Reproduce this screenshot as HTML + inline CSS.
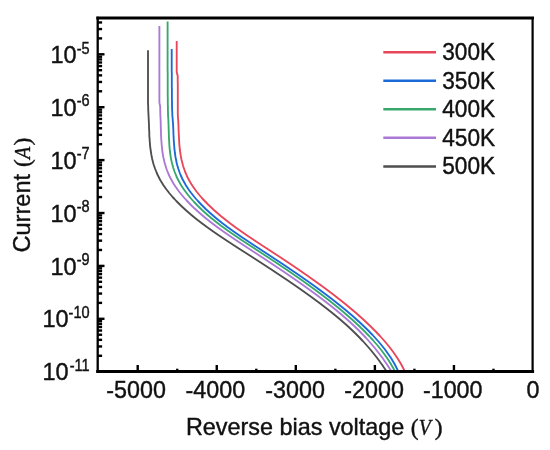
<!DOCTYPE html>
<html><head><meta charset="utf-8"><title>I-V curves</title>
<style>
html,body{margin:0;padding:0;background:#fff;}
body{width:550px;height:450px;overflow:hidden;}
svg{display:block;}
text{stroke:#111;stroke-width:0.4px;}
</style></head><body>
<svg width="550" height="450" viewBox="0 0 550 450">
<rect width="550" height="450" fill="#fff"/>
<polyline points="148.0,50.3 148.0,51.0 148.0,53.0 148.0,55.0 148.0,57.0 148.0,59.0 148.0,61.0 148.0,63.0 148.0,65.0 148.0,67.0 148.0,69.0 148.0,71.0 148.0,73.0 148.0,75.0 148.0,77.0 148.0,79.0 148.0,81.0 148.0,83.0 148.0,85.0 148.0,87.0 148.0,89.0 148.0,91.0 148.0,93.0 148.0,95.0 148.0,97.0 148.0,99.0 148.0,101.0 148.0,103.0 148.1,105.0 148.2,107.0 148.2,109.0 148.3,111.0 148.4,113.0 148.5,115.0 148.6,117.0 148.7,119.0 148.8,121.0 148.9,123.0 149.0,125.0 149.0,127.0 149.1,129.0 149.2,131.0 149.3,133.0 149.3,135.0 149.4,137.0 149.6,139.0 149.7,141.0 149.9,143.0 150.0,145.0 150.2,147.0 150.5,149.0 150.8,151.0 151.1,153.0 151.4,155.0 151.8,157.0 152.2,159.0 152.7,161.0 153.2,163.0 153.8,165.0 154.5,167.0 155.2,169.0 156.0,171.0 156.8,173.0 157.7,175.0 158.7,177.0 159.7,179.0 160.8,181.0 162.1,183.0 163.3,185.0 164.7,187.0 166.1,189.0 167.7,191.0 169.2,193.0 170.9,195.0 172.6,197.0 174.5,199.0 176.3,201.0 178.3,203.0 180.3,205.0 182.4,207.0 184.6,209.0 186.8,211.0 189.1,213.0 191.4,215.0 193.8,217.0 196.3,219.0 198.9,221.0 201.5,223.0 204.2,225.0 206.9,227.0 209.7,229.0 212.5,231.0 215.4,233.0 218.3,235.0 221.3,237.0 224.3,239.0 227.3,241.0 230.4,243.0 233.4,245.0 236.5,247.0 239.6,249.0 242.7,251.0 245.9,253.0 249.0,255.0 252.1,257.0 255.2,259.0 258.3,261.0 261.4,263.0 264.4,265.0 267.5,267.0 270.6,269.0 273.6,271.0 276.6,273.0 279.6,275.0 282.6,277.0 285.6,279.0 288.6,281.0 291.5,283.0 294.4,285.0 297.3,287.0 300.2,289.0 303.0,291.0 305.8,293.0 308.6,295.0 311.4,297.0 314.1,299.0 316.8,301.0 319.5,303.0 322.1,305.0 324.7,307.0 327.3,309.0 329.8,311.0 332.3,313.0 334.8,315.0 337.2,317.0 339.6,319.0 341.9,321.0 344.2,323.0 346.5,325.0 348.7,327.0 350.8,329.0 352.9,331.0 355.0,333.0 357.0,335.0 359.0,337.0 360.9,339.0 362.8,341.0 364.6,343.0 366.4,345.0 368.2,347.0 369.9,349.0 371.6,351.0 373.2,353.0 374.8,355.0 376.4,357.0 377.9,359.0 379.4,361.0 380.8,363.0 382.3,365.0 383.6,367.0 385.0,369.0 386.3,371.0 386.7,371.5" fill="none" stroke="#4e4e4e" stroke-width="1.85" stroke-linejoin="round"/>
<polyline points="159.4,25.9 159.4,26.0 159.4,28.0 159.4,30.0 159.4,32.0 159.4,34.0 159.4,36.0 159.4,38.0 159.4,40.0 159.4,42.0 159.4,44.0 159.4,46.0 159.4,48.0 159.4,50.0 159.4,52.0 159.4,54.0 159.4,56.0 159.4,58.0 159.4,60.0 159.4,62.0 159.4,64.0 159.4,66.0 159.4,68.0 159.4,70.0 159.4,72.0 159.4,74.0 159.4,76.0 159.4,78.0 159.4,80.0 159.4,82.0 159.4,84.0 159.4,86.0 159.4,88.0 159.4,90.0 159.4,92.0 159.4,94.0 159.4,96.0 159.4,98.0 159.4,100.0 159.4,102.0 159.7,104.0 160.1,106.0 160.2,108.0 160.2,110.0 160.3,112.0 160.3,114.0 160.4,116.0 160.5,118.0 160.6,120.0 160.7,122.0 160.7,124.0 160.8,126.0 160.8,128.0 160.9,130.0 161.0,132.0 161.0,134.0 161.1,136.0 161.2,138.0 161.3,140.0 161.5,142.0 161.6,144.0 161.8,146.0 162.0,148.0 162.2,150.0 162.5,152.0 162.8,154.0 163.1,156.0 163.5,158.0 164.0,160.0 164.4,162.0 165.0,164.0 165.6,166.0 166.2,168.0 166.9,170.0 167.7,172.0 168.5,174.0 169.4,176.0 170.4,178.0 171.5,180.0 172.6,182.0 173.8,184.0 175.1,186.0 176.5,188.0 177.9,190.0 179.4,192.0 181.0,194.0 182.7,196.0 184.4,198.0 186.2,200.0 188.1,202.0 190.0,204.0 192.0,206.0 194.1,208.0 196.3,210.0 198.5,212.0 200.8,214.0 203.1,216.0 205.5,218.0 208.0,220.0 210.5,222.0 213.1,224.0 215.8,226.0 218.5,228.0 221.3,230.0 224.1,232.0 227.0,234.0 229.9,236.0 232.8,238.0 235.8,240.0 238.8,242.0 241.8,244.0 244.8,246.0 247.9,248.0 250.9,250.0 254.0,252.0 257.1,254.0 260.1,256.0 263.2,258.0 266.2,260.0 269.2,262.0 272.2,264.0 275.2,266.0 278.2,268.0 281.2,270.0 284.2,272.0 287.1,274.0 290.0,276.0 292.9,278.0 295.8,280.0 298.7,282.0 301.5,284.0 304.3,286.0 307.1,288.0 309.9,290.0 312.6,292.0 315.4,294.0 318.0,296.0 320.7,298.0 323.3,300.0 325.9,302.0 328.5,304.0 331.0,306.0 333.5,308.0 336.0,310.0 338.4,312.0 340.8,314.0 343.1,316.0 345.4,318.0 347.7,320.0 349.9,322.0 352.1,324.0 354.2,326.0 356.3,328.0 358.4,330.0 360.4,332.0 362.3,334.0 364.2,336.0 366.1,338.0 367.9,340.0 369.7,342.0 371.4,344.0 373.1,346.0 374.8,348.0 376.4,350.0 377.9,352.0 379.5,354.0 381.0,356.0 382.5,358.0 383.9,360.0 385.3,362.0 386.7,364.0 388.0,366.0 389.3,368.0 390.6,370.0 391.6,371.5" fill="none" stroke="#ab78d6" stroke-width="1.85" stroke-linejoin="round"/>
<polyline points="167.6,21.4 167.6,22.0 167.6,24.0 167.6,26.0 167.6,28.0 167.6,30.0 167.6,32.0 167.6,34.0 167.6,36.0 167.6,38.0 167.6,40.0 167.6,42.0 167.6,44.0 167.6,46.0 167.6,48.0 167.6,50.0 167.6,52.0 167.6,54.0 167.6,56.0 167.6,58.0 167.6,60.0 167.6,62.0 167.6,64.0 167.6,66.0 167.6,68.0 167.6,70.0 167.7,72.0 167.7,74.0 167.7,76.0 167.7,78.0 167.7,80.0 167.7,82.0 167.7,84.0 167.7,86.0 167.7,88.0 167.7,90.0 167.7,92.0 167.7,94.0 167.7,96.0 167.8,98.0 167.8,100.0 167.8,102.0 167.8,104.0 167.9,106.0 167.9,108.0 167.9,110.0 168.0,112.0 168.0,114.0 168.1,116.0 168.2,118.0 168.4,120.0 168.4,122.0 168.5,124.0 168.6,126.0 168.6,128.0 168.7,130.0 168.8,132.0 168.8,134.0 168.9,136.0 169.0,138.0 169.1,140.0 169.2,142.0 169.3,144.0 169.4,146.0 169.6,148.0 169.8,150.0 170.0,152.0 170.3,154.0 170.6,156.0 170.9,158.0 171.3,160.0 171.7,162.0 172.2,164.0 172.8,166.0 173.3,168.0 174.0,170.0 174.7,172.0 175.5,174.0 176.3,176.0 177.2,178.0 178.2,180.0 179.3,182.0 180.4,184.0 181.6,186.0 182.9,188.0 184.3,190.0 185.8,192.0 187.3,194.0 188.9,196.0 190.5,198.0 192.3,200.0 194.1,202.0 196.0,204.0 197.9,206.0 200.0,208.0 202.1,210.0 204.3,212.0 206.5,214.0 208.8,216.0 211.2,218.0 213.7,220.0 216.2,222.0 218.8,224.0 221.4,226.0 224.2,228.0 226.9,230.0 229.8,232.0 232.7,234.0 235.6,236.0 238.6,238.0 241.5,240.0 244.6,242.0 247.6,244.0 250.7,246.0 253.8,248.0 256.8,250.0 259.9,252.0 263.0,254.0 266.0,256.0 269.1,258.0 272.1,260.0 275.2,262.0 278.2,264.0 281.1,266.0 284.1,268.0 287.1,270.0 290.0,272.0 292.9,274.0 295.8,276.0 298.7,278.0 301.5,280.0 304.3,282.0 307.1,284.0 309.9,286.0 312.6,288.0 315.4,290.0 318.1,292.0 320.7,294.0 323.4,296.0 326.0,298.0 328.6,300.0 331.1,302.0 333.6,304.0 336.1,306.0 338.6,308.0 341.0,310.0 343.4,312.0 345.7,314.0 348.0,316.0 350.3,318.0 352.6,320.0 354.8,322.0 356.9,324.0 359.1,326.0 361.1,328.0 363.2,330.0 365.2,332.0 367.1,334.0 369.1,336.0 370.9,338.0 372.8,340.0 374.5,342.0 376.3,344.0 378.0,346.0 379.6,348.0 381.2,350.0 382.7,352.0 384.2,354.0 385.6,356.0 387.0,358.0 388.4,360.0 389.6,362.0 390.9,364.0 392.0,366.0 393.2,368.0 394.2,370.0 395.0,371.5" fill="none" stroke="#36a86c" stroke-width="1.85" stroke-linejoin="round"/>
<polyline points="171.7,48.9 171.7,49.0 171.7,51.0 171.7,53.0 171.7,55.0 171.7,57.0 171.7,59.0 171.7,61.0 171.7,63.0 171.7,65.0 171.7,67.0 171.7,69.0 171.7,71.0 171.8,73.0 171.8,75.0 171.8,77.0 171.8,79.0 171.8,81.0 171.8,83.0 171.8,85.0 171.8,87.0 171.9,89.0 171.9,91.0 171.9,93.0 171.9,95.0 171.9,97.0 171.9,99.0 172.0,101.0 172.0,103.0 172.0,105.0 172.1,107.0 172.1,109.0 172.2,111.0 172.3,113.0 172.3,115.0 172.5,117.0 172.7,119.0 172.8,121.0 173.0,123.0 173.1,125.0 173.2,127.0 173.3,129.0 173.4,131.0 173.4,133.0 173.5,135.0 173.6,137.0 173.7,139.0 173.8,141.0 174.0,143.0 174.1,145.0 174.3,147.0 174.4,149.0 174.7,151.0 174.9,153.0 175.2,155.0 175.5,157.0 175.9,159.0 176.3,161.0 176.7,163.0 177.2,165.0 177.8,167.0 178.4,169.0 179.1,171.0 179.8,173.0 180.6,175.0 181.5,177.0 182.4,179.0 183.5,181.0 184.6,183.0 185.7,185.0 187.0,187.0 188.3,189.0 189.7,191.0 191.2,193.0 192.8,195.0 194.4,197.0 196.1,199.0 197.9,201.0 199.8,203.0 201.7,205.0 203.7,207.0 205.7,209.0 207.9,211.0 210.1,213.0 212.4,215.0 214.7,217.0 217.1,219.0 219.6,221.0 222.1,223.0 224.8,225.0 227.4,227.0 230.2,229.0 233.0,231.0 235.8,233.0 238.7,235.0 241.6,237.0 244.6,239.0 247.6,241.0 250.6,243.0 253.6,245.0 256.7,247.0 259.8,249.0 262.8,251.0 265.9,253.0 268.9,255.0 272.0,257.0 275.0,259.0 278.0,261.0 281.1,263.0 284.1,265.0 287.0,267.0 290.0,269.0 292.9,271.0 295.9,273.0 298.8,275.0 301.7,277.0 304.5,279.0 307.4,281.0 310.2,283.0 313.0,285.0 315.8,287.0 318.5,289.0 321.2,291.0 323.9,293.0 326.6,295.0 329.2,297.0 331.8,299.0 334.4,301.0 336.9,303.0 339.4,305.0 341.9,307.0 344.4,309.0 346.8,311.0 349.1,313.0 351.5,315.0 353.8,317.0 356.0,319.0 358.2,321.0 360.4,323.0 362.5,325.0 364.6,327.0 366.7,329.0 368.7,331.0 370.6,333.0 372.6,335.0 374.4,337.0 376.2,339.0 378.0,341.0 379.7,343.0 381.4,345.0 383.0,347.0 384.6,349.0 386.1,351.0 387.5,353.0 388.9,355.0 390.3,357.0 391.6,359.0 392.8,361.0 394.0,363.0 395.1,365.0 396.1,367.0 397.1,369.0 398.0,371.0 398.3,371.5" fill="none" stroke="#1a6ad8" stroke-width="1.85" stroke-linejoin="round"/>
<polyline points="176.7,41.1 176.7,42.0 176.7,44.0 176.7,46.0 176.7,48.0 176.7,50.0 176.7,52.0 176.7,54.0 176.7,56.0 176.7,58.0 176.7,60.0 176.7,62.0 176.7,64.0 176.7,66.0 176.7,68.0 176.7,70.0 176.7,72.0 177.2,74.0 177.7,76.0 177.7,78.0 177.7,80.0 177.7,82.0 177.8,84.0 177.8,86.0 177.8,88.0 177.8,90.0 177.8,92.0 177.8,94.0 177.8,96.0 177.8,98.0 177.8,100.0 177.8,102.0 177.8,104.0 177.8,106.0 177.8,108.0 177.8,110.0 177.8,112.0 177.8,114.0 177.9,116.0 178.0,118.0 178.2,120.0 178.3,122.0 178.4,124.0 178.5,126.0 178.5,128.0 178.6,130.0 178.7,132.0 178.8,134.0 178.9,136.0 179.0,138.0 179.1,140.0 179.2,142.0 179.3,144.0 179.5,146.0 179.7,148.0 179.9,150.0 180.2,152.0 180.5,154.0 180.8,156.0 181.2,158.0 181.6,160.0 182.1,162.0 182.6,164.0 183.1,166.0 183.8,168.0 184.5,170.0 185.2,172.0 186.1,174.0 186.9,176.0 187.9,178.0 189.0,180.0 190.1,182.0 191.3,184.0 192.6,186.0 194.0,188.0 195.4,190.0 196.9,192.0 198.5,194.0 200.2,196.0 201.9,198.0 203.8,200.0 205.7,202.0 207.6,204.0 209.7,206.0 211.8,208.0 213.9,210.0 216.2,212.0 218.5,214.0 220.8,216.0 223.3,218.0 225.8,220.0 228.4,222.0 231.0,224.0 233.7,226.0 236.4,228.0 239.3,230.0 242.1,232.0 245.0,234.0 247.9,236.0 250.9,238.0 253.9,240.0 256.9,242.0 260.0,244.0 263.0,246.0 266.1,248.0 269.2,250.0 272.2,252.0 275.3,254.0 278.4,256.0 281.4,258.0 284.4,260.0 287.4,262.0 290.4,264.0 293.4,266.0 296.3,268.0 299.2,270.0 302.1,272.0 305.0,274.0 307.9,276.0 310.7,278.0 313.5,280.0 316.3,282.0 319.1,284.0 321.9,286.0 324.6,288.0 327.3,290.0 329.9,292.0 332.6,294.0 335.2,296.0 337.7,298.0 340.3,300.0 342.8,302.0 345.3,304.0 347.7,306.0 350.1,308.0 352.5,310.0 354.9,312.0 357.2,314.0 359.4,316.0 361.7,318.0 363.9,320.0 366.0,322.0 368.1,324.0 370.2,326.0 372.2,328.0 374.2,330.0 376.2,332.0 378.1,334.0 380.0,336.0 381.8,338.0 383.6,340.0 385.3,342.0 387.0,344.0 388.6,346.0 390.2,348.0 391.7,350.0 393.2,352.0 394.6,354.0 396.0,356.0 397.3,358.0 398.6,360.0 399.8,362.0 401.0,364.0 402.1,366.0 403.1,368.0 404.1,370.0 404.8,371.5" fill="none" stroke="#e8475a" stroke-width="1.85" stroke-linejoin="round"/>
<g stroke="#000" fill="none" stroke-linecap="square">
<line x1="97.70" y1="18.00" x2="532.60" y2="18.00" stroke-width="2.8"/>
<line x1="97.70" y1="371.50" x2="532.60" y2="371.50" stroke-width="3"/>
<line x1="97.70" y1="18.00" x2="97.70" y2="371.50" stroke-width="2.3"/>
<line x1="532.60" y1="18.00" x2="532.60" y2="371.50" stroke-width="2.2"/>
</g>
<g stroke="#000" stroke-width="2.4">
<line x1="137.70" y1="371.50" x2="137.70" y2="365.00"/>
<line x1="216.76" y1="371.50" x2="216.76" y2="365.00"/>
<line x1="295.82" y1="371.50" x2="295.82" y2="365.00"/>
<line x1="374.88" y1="371.50" x2="374.88" y2="365.00"/>
<line x1="453.94" y1="371.50" x2="453.94" y2="365.00"/>
<line x1="177.23" y1="371.50" x2="177.23" y2="368.70"/>
<line x1="256.29" y1="371.50" x2="256.29" y2="368.70"/>
<line x1="335.35" y1="371.50" x2="335.35" y2="368.70"/>
<line x1="414.41" y1="371.50" x2="414.41" y2="368.70"/>
<line x1="493.47" y1="371.50" x2="493.47" y2="368.70"/>
<line x1="97.70" y1="54.30" x2="104.50" y2="54.30"/>
<line x1="97.70" y1="107.20" x2="104.50" y2="107.20"/>
<line x1="97.70" y1="160.10" x2="104.50" y2="160.10"/>
<line x1="97.70" y1="213.00" x2="104.50" y2="213.00"/>
<line x1="97.70" y1="265.90" x2="104.50" y2="265.90"/>
<line x1="97.70" y1="318.80" x2="104.50" y2="318.80"/>
<line x1="97.70" y1="355.78" x2="102.10" y2="355.78"/>
<line x1="97.70" y1="346.46" x2="102.10" y2="346.46"/>
<line x1="97.70" y1="339.85" x2="102.10" y2="339.85"/>
<line x1="97.70" y1="334.72" x2="102.10" y2="334.72"/>
<line x1="97.70" y1="330.54" x2="102.10" y2="330.54"/>
<line x1="97.70" y1="326.99" x2="102.10" y2="326.99"/>
<line x1="97.70" y1="323.93" x2="102.10" y2="323.93"/>
<line x1="97.70" y1="321.22" x2="102.10" y2="321.22"/>
<line x1="97.70" y1="302.88" x2="102.10" y2="302.88"/>
<line x1="97.70" y1="293.56" x2="102.10" y2="293.56"/>
<line x1="97.70" y1="286.95" x2="102.10" y2="286.95"/>
<line x1="97.70" y1="281.82" x2="102.10" y2="281.82"/>
<line x1="97.70" y1="277.64" x2="102.10" y2="277.64"/>
<line x1="97.70" y1="274.09" x2="102.10" y2="274.09"/>
<line x1="97.70" y1="271.03" x2="102.10" y2="271.03"/>
<line x1="97.70" y1="268.32" x2="102.10" y2="268.32"/>
<line x1="97.70" y1="249.98" x2="102.10" y2="249.98"/>
<line x1="97.70" y1="240.66" x2="102.10" y2="240.66"/>
<line x1="97.70" y1="234.05" x2="102.10" y2="234.05"/>
<line x1="97.70" y1="228.92" x2="102.10" y2="228.92"/>
<line x1="97.70" y1="224.74" x2="102.10" y2="224.74"/>
<line x1="97.70" y1="221.19" x2="102.10" y2="221.19"/>
<line x1="97.70" y1="218.13" x2="102.10" y2="218.13"/>
<line x1="97.70" y1="215.42" x2="102.10" y2="215.42"/>
<line x1="97.70" y1="197.08" x2="102.10" y2="197.08"/>
<line x1="97.70" y1="187.76" x2="102.10" y2="187.76"/>
<line x1="97.70" y1="181.15" x2="102.10" y2="181.15"/>
<line x1="97.70" y1="176.02" x2="102.10" y2="176.02"/>
<line x1="97.70" y1="171.84" x2="102.10" y2="171.84"/>
<line x1="97.70" y1="168.29" x2="102.10" y2="168.29"/>
<line x1="97.70" y1="165.23" x2="102.10" y2="165.23"/>
<line x1="97.70" y1="162.52" x2="102.10" y2="162.52"/>
<line x1="97.70" y1="144.18" x2="102.10" y2="144.18"/>
<line x1="97.70" y1="134.86" x2="102.10" y2="134.86"/>
<line x1="97.70" y1="128.25" x2="102.10" y2="128.25"/>
<line x1="97.70" y1="123.12" x2="102.10" y2="123.12"/>
<line x1="97.70" y1="118.94" x2="102.10" y2="118.94"/>
<line x1="97.70" y1="115.39" x2="102.10" y2="115.39"/>
<line x1="97.70" y1="112.33" x2="102.10" y2="112.33"/>
<line x1="97.70" y1="109.62" x2="102.10" y2="109.62"/>
<line x1="97.70" y1="91.28" x2="102.10" y2="91.28"/>
<line x1="97.70" y1="81.96" x2="102.10" y2="81.96"/>
<line x1="97.70" y1="75.35" x2="102.10" y2="75.35"/>
<line x1="97.70" y1="70.22" x2="102.10" y2="70.22"/>
<line x1="97.70" y1="66.04" x2="102.10" y2="66.04"/>
<line x1="97.70" y1="62.49" x2="102.10" y2="62.49"/>
<line x1="97.70" y1="59.43" x2="102.10" y2="59.43"/>
<line x1="97.70" y1="56.72" x2="102.10" y2="56.72"/>
<line x1="97.70" y1="38.38" x2="102.10" y2="38.38"/>
<line x1="97.70" y1="29.06" x2="102.10" y2="29.06"/>
<line x1="97.70" y1="22.45" x2="102.10" y2="22.45"/>
</g>
<g font-family="Liberation Sans, Arial, sans-serif" fill="#111">
<text x="136.05" y="398.2" font-size="23.3" text-anchor="middle">-5000</text>
<text x="215.35" y="398.2" font-size="23.3" text-anchor="middle">-4000</text>
<text x="295.05" y="398.2" font-size="23.3" text-anchor="middle">-3000</text>
<text x="374.05" y="398.2" font-size="23.3" text-anchor="middle">-2000</text>
<text x="452.75" y="398.2" font-size="23.3" text-anchor="middle">-1000</text>
<text x="532.90" y="398.2" font-size="23.3" text-anchor="middle">0</text>
<text x="76.68" y="62.90" font-size="23.5" text-anchor="end">10</text>
<text transform="translate(89.6,53.50) scale(0.92,1)" font-size="15.8" text-anchor="end">-5</text>
<text x="76.68" y="115.80" font-size="23.5" text-anchor="end">10</text>
<text transform="translate(89.6,106.40) scale(0.92,1)" font-size="15.8" text-anchor="end">-6</text>
<text x="76.68" y="168.70" font-size="23.5" text-anchor="end">10</text>
<text transform="translate(89.6,159.30) scale(0.92,1)" font-size="15.8" text-anchor="end">-7</text>
<text x="76.68" y="221.60" font-size="23.5" text-anchor="end">10</text>
<text transform="translate(89.6,212.20) scale(0.92,1)" font-size="15.8" text-anchor="end">-8</text>
<text x="76.68" y="274.50" font-size="23.5" text-anchor="end">10</text>
<text transform="translate(89.6,265.10) scale(0.92,1)" font-size="15.8" text-anchor="end">-9</text>
<text x="68.60" y="327.40" font-size="23.5" text-anchor="end">10</text>
<text transform="translate(89.6,318.00) scale(0.92,1)" font-size="15.8" text-anchor="end">-10</text>
<text x="68.60" y="380.30" font-size="23.5" text-anchor="end">10</text>
<text transform="translate(89.6,370.90) scale(0.92,1)" font-size="15.8" text-anchor="end">-11</text>
</g>
<text x="185.9" y="434.9" font-family="Liberation Sans, Arial, sans-serif" font-size="23.4" fill="#111">Reverse bias voltage</text>
<text x="410.70" y="434.9" font-family="Liberation Serif, serif" font-size="23.4" fill="#111">(</text>
<text transform="translate(418.70,434.9) scale(0.850,1)" font-family="Liberation Serif, serif" font-style="italic" font-size="23.4" fill="#111">V</text>
<text x="434.80" y="434.9" font-family="Liberation Serif, serif" font-size="23.4" fill="#111">)</text>
<g transform="translate(30.3,252.6) rotate(-90)" fill="#111">
<text x="0" y="0" font-family="Liberation Sans, Arial, sans-serif" font-size="23.6">Current</text>
<text x="85.50" y="0" font-family="Liberation Serif, serif" font-size="23.6">(</text>
<text transform="translate(93.60,0) scale(0.850,1)" font-family="Liberation Serif, serif" font-style="italic" font-size="23.6">A</text>
<text x="107.10" y="0" font-family="Liberation Serif, serif" font-size="23.6">)</text>
</g>
<line x1="383.3" y1="52.20" x2="436" y2="52.20" stroke="#e8475a" stroke-width="2.5"/>
<text transform="translate(442.2,60.20) scale(0.97,1)" font-family="Liberation Sans, Arial, sans-serif" font-size="23.35" fill="#111">300K</text>
<line x1="383.3" y1="80.75" x2="436" y2="80.75" stroke="#1a6ad8" stroke-width="2.5"/>
<text transform="translate(442.2,88.75) scale(0.97,1)" font-family="Liberation Sans, Arial, sans-serif" font-size="23.35" fill="#111">350K</text>
<line x1="383.3" y1="109.30" x2="436" y2="109.30" stroke="#36a86c" stroke-width="2.5"/>
<text transform="translate(442.2,117.30) scale(0.97,1)" font-family="Liberation Sans, Arial, sans-serif" font-size="23.35" fill="#111">400K</text>
<line x1="383.3" y1="137.85" x2="436" y2="137.85" stroke="#ab78d6" stroke-width="2.5"/>
<text transform="translate(442.2,145.85) scale(0.97,1)" font-family="Liberation Sans, Arial, sans-serif" font-size="23.35" fill="#111">450K</text>
<line x1="383.3" y1="166.40" x2="436" y2="166.40" stroke="#4e4e4e" stroke-width="2.5"/>
<text transform="translate(442.2,174.40) scale(0.97,1)" font-family="Liberation Sans, Arial, sans-serif" font-size="23.35" fill="#111">500K</text>
</svg>
</body></html>
